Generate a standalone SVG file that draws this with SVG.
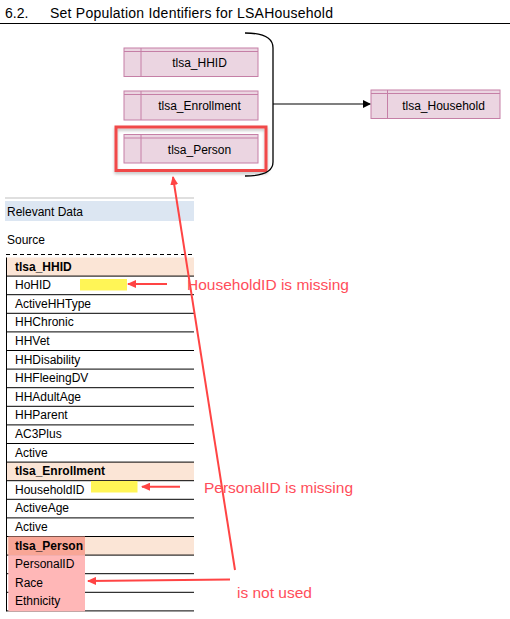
<svg xmlns="http://www.w3.org/2000/svg" width="510" height="619" viewBox="0 0 510 619">
<style>
text{font-family:"Liberation Sans",Arial,sans-serif;}
.title{font-size:14px;fill:#000;}
.cell{font-size:12px;fill:#000;}
.bold{font-weight:bold;}
.node rect.box{fill:#EBD5E1;stroke:#C57FA6;stroke-width:1;}
.node line{stroke:#C57FA6;stroke-width:1;}
.ntext{font-size:12px;fill:#000;text-anchor:middle;}
.rowline{stroke:#000;stroke-width:1;}
.note{font-size:15.5px;fill:#FF4D5A;}
.red{stroke:#FF4444;stroke-width:2;fill:none;}
</style>
<defs>
<marker id="ah" markerWidth="8" markerHeight="8" refX="7" refY="4" orient="auto" markerUnits="userSpaceOnUse"><path d="M0,0 L8,4 L0,8 z" fill="#000"/></marker>
<marker id="rh" markerWidth="9" markerHeight="8" refX="8" refY="4" orient="auto" markerUnits="userSpaceOnUse"><path d="M0,0 L9,4 L0,8 z" fill="#FF4444"/></marker>
<filter id="sh" x="-10%" y="-20%" width="120%" height="150%"><feDropShadow dx="0" dy="2" stdDeviation="1.5" flood-color="#000" flood-opacity="0.25"/></filter>
</defs>

<!-- title -->
<text class="title" x="5" y="18">6.2.</text>
<text class="title" x="50" y="18" textLength="283">Set Population Identifiers for LSAHousehold</text>
<line x1="0" y1="23.5" x2="510" y2="23.5" stroke="#000" stroke-width="1"/>

<!-- nodes -->
<g id="node-hhid" class="node">
<rect class="box" x="124" y="48" width="134" height="28.5"/>
<line x1="124" y1="51.5" x2="258" y2="51.5"/>
<line x1="141" y1="48" x2="141" y2="76.5"/>
<text class="ntext" x="199.5" y="66.5">tlsa_HHID</text>
</g>
<g id="node-enrollment" class="node">
<rect class="box" x="124" y="91" width="134" height="29"/>
<line x1="124" y1="94.5" x2="258" y2="94.5"/>
<line x1="141" y1="91" x2="141" y2="120"/>
<text class="ntext" x="199.5" y="110">tlsa_Enrollment</text>
</g>
<g id="node-person" class="node">
<rect x="116" y="127" width="150" height="43.5" fill="none" stroke="#F04848" stroke-width="3" filter="url(#sh)"/>
<rect class="box" x="124" y="134.5" width="134" height="28.5"/>
<line x1="124" y1="138" x2="258" y2="138"/>
<line x1="141" y1="134.5" x2="141" y2="163"/>
<text class="ntext" x="199.5" y="153.5">tlsa_Person</text>
</g>
<g id="node-household" class="node">
<rect class="box" x="371" y="90" width="129" height="28.5"/>
<line x1="371" y1="93.5" x2="500" y2="93.5"/>
<line x1="387.5" y1="90" x2="387.5" y2="118.5"/>
<text class="ntext" x="443.5" y="109.5">tlsa_Household</text>
</g>

<!-- table -->
<g id="table">
<line x1="5" y1="198" x2="194" y2="198" stroke="#BFBFBF" stroke-width="1"/>
<rect x="5" y="201" width="189" height="20" fill="#DCE6F2"/>
<text class="cell" x="7" y="216">Relevant Data</text>
<text class="cell" x="7" y="244">Source</text>
<line x1="6" y1="254.5" x2="194" y2="254.5" stroke="#000" stroke-width="1" stroke-dasharray="4,3"/>

<rect x="6.5" y="257.5" width="187.5" height="18.6" fill="#FBE5D6"/>
<rect x="6.5" y="462.1" width="187.5" height="18.6" fill="#FBE5D6"/>
<rect x="6.5" y="536.5" width="187.5" height="18.6" fill="#FBE5D6"/>

<g class="rowline">
<line x1="6.5" y1="276.1" x2="194" y2="276.1"/>
<line x1="6.5" y1="294.7" x2="194" y2="294.7"/>
<line x1="6.5" y1="313.3" x2="194" y2="313.3"/>
<line x1="6.5" y1="331.9" x2="194" y2="331.9"/>
<line x1="6.5" y1="350.5" x2="194" y2="350.5"/>
<line x1="6.5" y1="369.1" x2="194" y2="369.1"/>
<line x1="6.5" y1="387.7" x2="194" y2="387.7"/>
<line x1="6.5" y1="406.3" x2="194" y2="406.3"/>
<line x1="6.5" y1="424.9" x2="194" y2="424.9"/>
<line x1="6.5" y1="443.5" x2="194" y2="443.5"/>
<line x1="6.5" y1="462.1" x2="194" y2="462.1"/>
<line x1="6.5" y1="480.7" x2="194" y2="480.7"/>
<line x1="6.5" y1="499.3" x2="194" y2="499.3"/>
<line x1="6.5" y1="517.9" x2="194" y2="517.9"/>
<line x1="6.5" y1="536.5" x2="194" y2="536.5"/>
<line x1="6.5" y1="555.1" x2="194" y2="555.1"/>
<line x1="6.5" y1="573.7" x2="194" y2="573.7"/>
<line x1="6.5" y1="592.3" x2="194" y2="592.3"/>
<line x1="6.5" y1="610.9" x2="194" y2="610.9"/>
<line x1="6.5" y1="257.5" x2="6.5" y2="611.4"/>
</g>

<rect x="8.3" y="536.5" width="76.7" height="18.6" fill="#F8A696"/>
<rect x="8.3" y="555.1" width="76.7" height="56.3" fill="#FFB7B7"/>

<rect x="80" y="279" width="47" height="11.5" fill="#FFF556"/>
<rect x="91" y="481" width="46.5" height="11.5" fill="#FFF556"/>

<text class="cell bold" x="15" y="270.5">tlsa_HHID</text>
<text class="cell" x="15" y="289.1">HoHID</text>
<text class="cell" x="15" y="307.7">ActiveHHType</text>
<text class="cell" x="15" y="326.3">HHChronic</text>
<text class="cell" x="15" y="344.9">HHVet</text>
<text class="cell" x="15" y="363.5">HHDisability</text>
<text class="cell" x="15" y="382.1">HHFleeingDV</text>
<text class="cell" x="15" y="400.7">HHAdultAge</text>
<text class="cell" x="15" y="419.3">HHParent</text>
<text class="cell" x="15" y="437.9">AC3Plus</text>
<text class="cell" x="15" y="456.5">Active</text>
<text class="cell bold" x="15" y="475.1">tlsa_Enrollment</text>
<text class="cell" x="15" y="493.7">HouseholdID</text>
<text class="cell" x="15" y="512.3">ActiveAge</text>
<text class="cell" x="15" y="530.9">Active</text>
<text class="cell bold" x="15" y="549.5">tlsa_Person</text>
<text class="cell" x="15" y="568.1">PersonalID</text>
<text class="cell" x="15" y="586.7">Race</text>
<text class="cell" x="15" y="605.3">Ethnicity</text>
</g>

<!-- connectors -->
<g id="connectors">
<path d="M245,33 Q273,33 273,48 L273,162 Q273,176 245,176" fill="none" stroke="#000" stroke-width="1.3"/>
<line x1="273" y1="104" x2="370" y2="104" stroke="#000" stroke-width="1.2" marker-end="url(#ah)"/>
<line class="red" x1="235" y1="570" x2="173" y2="177" marker-end="url(#rh)"/>
<line class="red" x1="167" y1="284" x2="128" y2="284" marker-end="url(#rh)"/>
<line class="red" x1="180" y1="486.7" x2="142" y2="486.7" marker-end="url(#rh)"/>
<line class="red" x1="230" y1="579.5" x2="88" y2="581" marker-end="url(#rh)"/>
</g>

<!-- notes -->
<text class="note" x="187" y="290">HouseholdID is missing</text>
<text class="note" x="204" y="493">PersonalID is missing</text>
<text class="note" x="237" y="598">is not used</text>
</svg>
